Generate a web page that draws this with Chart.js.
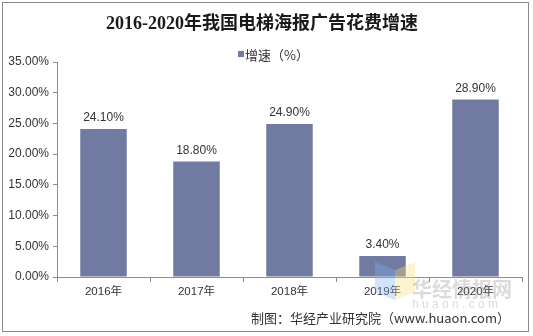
<!DOCTYPE html>
<html><head><meta charset="utf-8">
<script src="https://cdn.jsdelivr.net/npm/chart.js@4/dist/chart.umd.min.js"></script>
<style>html,body{margin:0;padding:0;background:#fff}#wrap{width:533px;height:336px;position:relative}</style>
</head><body><div id="wrap"><canvas id="c" width="533" height="336"></canvas></div>
<script>
const categories = ['2016年','2017年','2018年','2019年','2020年'];
const growth = [24.1, 18.8, 24.9, 3.4, 28.9];
const seriesName = '增速（%）';
const titleText = '2016-2020年我国电梯海报广告花费增速';
const sourceText = '制图：华经产业研究院（www.huaon.com）';
const yMax = 35, yStep = 5;

const barColor = '#717ba1';
const textColor = '#333333';
const axisColor = '#8c8c8c';
const latin = "'Liberation Sans', Arial, 'Noto Sans CJK SC', sans-serif";

const deco = {
  id: 'deco',
  beforeDraw(chart) {
    const ctx = chart.ctx;
    ctx.save();
    ctx.fillStyle = '#fff';
    ctx.fillRect(0, 0, chart.width, chart.height);
    ctx.restore();
  },
  afterDraw(chart) {
    const ctx = chart.ctx;
    ctx.save();
    // border
    ctx.strokeStyle = '#8a8a8a';
    ctx.lineWidth = 1;
    ctx.strokeRect(2.5, 2.5, 526, 329);
    // title
    ctx.fillStyle = '#1a1a1a';
    ctx.font = "bold 18px 'Liberation Serif', 'Noto Sans CJK SC', serif";
    ctx.textAlign = 'center';
    ctx.textBaseline = 'middle';
    ctx.fillText(titleText, 262, 24);
    // legend
    ctx.fillStyle = barColor;
    ctx.fillRect(238, 51, 6, 6);
    ctx.fillStyle = textColor;
    ctx.font = "13px 'Noto Sans CJK SC', sans-serif";
    ctx.textAlign = 'left';
    ctx.fillText(seriesName, 245, 55);
    // value labels
    const meta = chart.getDatasetMeta(0);
    ctx.font = "12px " + latin;
    ctx.textAlign = 'center';
    ctx.textBaseline = 'bottom';
    ctx.fillStyle = textColor;
    meta.data.forEach((bar, i) => {
      ctx.fillText(growth[i].toFixed(2) + '%', bar.x, bar.y - 5);
    });
    // watermark
    ctx.globalAlpha = 0.35;
    ctx.fillStyle = '#7fb2f0';
    ctx.beginPath(); ctx.moveTo(375,262); ctx.lineTo(395,270); ctx.lineTo(395,300); ctx.lineTo(375,292); ctx.closePath(); ctx.fill();
    ctx.fillStyle = '#f5dc7a';
    ctx.beginPath(); ctx.moveTo(395,270); ctx.lineTo(415,262); ctx.lineTo(415,292); ctx.lineTo(395,300); ctx.closePath(); ctx.fill();
    ctx.globalAlpha = 0.3;
    ctx.fillStyle = '#888';
    ctx.font = "bold 20px 'Noto Sans CJK SC', sans-serif";
    ctx.textAlign = 'left';
    ctx.textBaseline = 'middle';
    ctx.fillText('华经情报网', 412, 289);
    ctx.font = "12px " + latin;
    ctx.fillText('h u a o n . c o m', 412, 305);
    ctx.globalAlpha = 1;
    // source
    ctx.fillStyle = textColor;
    ctx.font = "13px 'Noto Sans CJK SC', sans-serif";
    ctx.textAlign = 'right';
    ctx.textBaseline = 'middle';
    ctx.fillText(sourceText, 510, 318);
    ctx.restore();
  }
};

new Chart(document.getElementById('c'), {
  type: 'bar',
  data: {
    labels: categories,
    datasets: [{ label: seriesName, data: growth, backgroundColor: barColor,
      categoryPercentage: 1, barPercentage: 0.5 }]
  },
  options: {
    responsive: false, animation: false, devicePixelRatio: 1,
    layout: { padding: { top: 62, right: 11, bottom: 0, left: 0 } },
    plugins: { legend: { display: false }, title: { display: false }, tooltip: { enabled: false } },
    scales: {
      x: {
        grid: { display: true, drawOnChartArea: false, drawTicks: true, tickLength: 5, color: axisColor, offset: true },
        border: { display: true, color: axisColor },
        ticks: { color: textColor, font: { size: 11.5, family: latin }, padding: 3, maxRotation: 0 },
        afterFit(s) { s.height = 59; }
      },
      y: {
        min: 0, max: yMax,
        grid: { display: true, drawOnChartArea: false, drawTicks: true, tickLength: 4, color: axisColor },
        border: { display: true, color: axisColor },
        ticks: { stepSize: yStep, color: textColor, font: { size: 12, family: latin }, padding: 4,
          callback: v => v.toFixed(2) + '%' },
        afterFit(s) { s.width = 57; }
      }
    }
  },
  plugins: [deco]
});
</script></body></html>
